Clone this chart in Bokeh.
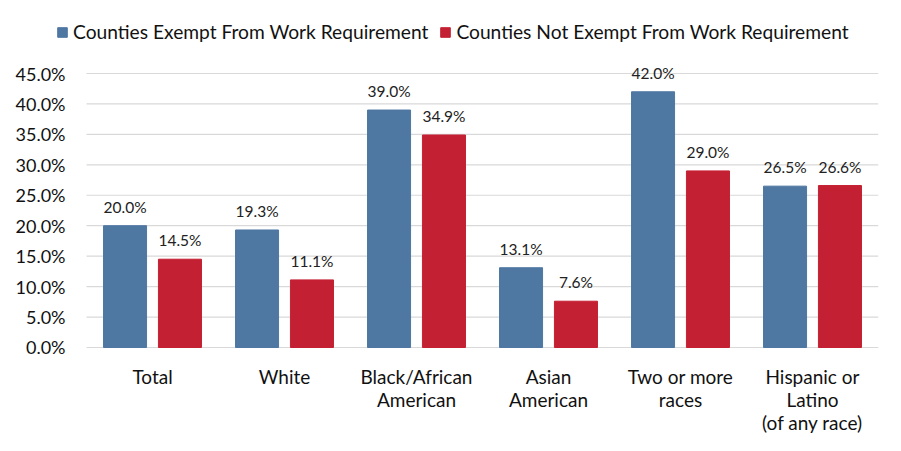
from bokeh.plotting import figure
from bokeh.models import ColumnDataSource, Legend, LegendItem, FixedTicker
from bokeh.core.properties import value
from bokeh.embed import file_html
from bokeh.resources import INLINE

categories = ['Total', 'White', 'Black/African\nAmerican', 'Asian\nAmerican',
              'Two or more\nraces', 'Hispanic or\nLatino\n(of any race)']
exempt = [20.0, 19.3, 39.0, 13.1, 42.0, 26.5]
not_exempt = [14.5, 11.1, 34.9, 7.6, 29.0, 26.6]
series_names = ['Counties Exempt From Work Requirement',
                'Counties Not Exempt From Work Requirement']
y_ticks = [0, 5, 10, 15, 20, 25, 30, 35, 40, 45]

BLUE = '#4E77A2'
RED = '#C42033'
GRID = '#D9D9D9'
FONT = 'Lato'

xs = list(range(len(categories)))
off = 0.208
w = 0.326
x_lo, x_hi = -0.5, len(categories) - 0.5

src_a = ColumnDataSource(dict(x=[i - off for i in xs], top=exempt,
                              lbl=['%.1f%%' % v for v in exempt]))
src_b = ColumnDataSource(dict(x=[i + off for i in xs], top=not_exempt,
                              lbl=['%.1f%%' % v for v in not_exempt]))
src_y = ColumnDataSource(dict(y=y_ticks, x0=[x_lo] * len(y_ticks),
                              x1=[x_hi] * len(y_ticks),
                              lbl=['%.1f%%' % t for t in y_ticks]))

# the frame fills the canvas (except the category axis) so that the legend
# and the value-axis labels are not clipped
p = figure(width=901, height=451, x_range=(-1.1515, x_hi), y_range=(-1.48, 56.99),
           output_backend='svg', toolbar_location=None,
           min_border_left=0, min_border_right=23,
           min_border_top=0, min_border_bottom=95)
p.outline_line_color = None
p.grid.grid_line_color = None
p.yaxis.visible = False

# value gridlines and their labels
p.segment(x0='x0', y0='y', x1='x1', y1='y', source=src_y,
          line_color=GRID, line_width=1.2)
p.text(x='x0', y='y', text='lbl', source=src_y, text_align='right',
       text_baseline='middle', x_offset=-21, text_font=value(FONT),
       text_font_size='18px', text_color='#111111')

ra = p.vbar(x='x', top='top', width=w, source=src_a, color=BLUE)
rb = p.vbar(x='x', top='top', width=w, source=src_b, color=RED)

for s in (src_a, src_b):
    p.text(x='x', y='top', text='lbl', source=s, text_align='center',
           text_baseline='bottom', y_offset=-10, text_font=value(FONT),
           text_font_size='15.5px', text_color='#222222')

p.xaxis.ticker = FixedTicker(ticks=xs)
p.xaxis.major_label_overrides = {i: c for i, c in zip(xs, categories)}
p.xaxis.axis_line_color = None
p.xaxis.major_tick_line_color = None
p.xaxis.minor_tick_line_color = None
p.xaxis.major_tick_out = 0
p.xaxis.major_tick_in = 0
p.xaxis.major_label_standoff = 8
p.xaxis.major_label_text_font = FONT
p.xaxis.major_label_text_font_size = '19px'
p.xaxis.major_label_text_color = '#111111'
p.xaxis.major_label_text_line_height = 1.0

legend = Legend(items=[LegendItem(label=series_names[0], renderers=[ra]),
                       LegendItem(label=series_names[1], renderers=[rb])],
                orientation='horizontal', location=(56, 313),
                label_text_font=FONT, label_text_font_size='19.2px',
                label_text_color='#111111', glyph_width=12, glyph_height=12,
                label_standoff=5, spacing=11, padding=4, margin=0,
                border_line_color=None, background_fill_alpha=0)
p.add_layout(legend)

open('out.html', 'w').write(file_html(p, INLINE))
